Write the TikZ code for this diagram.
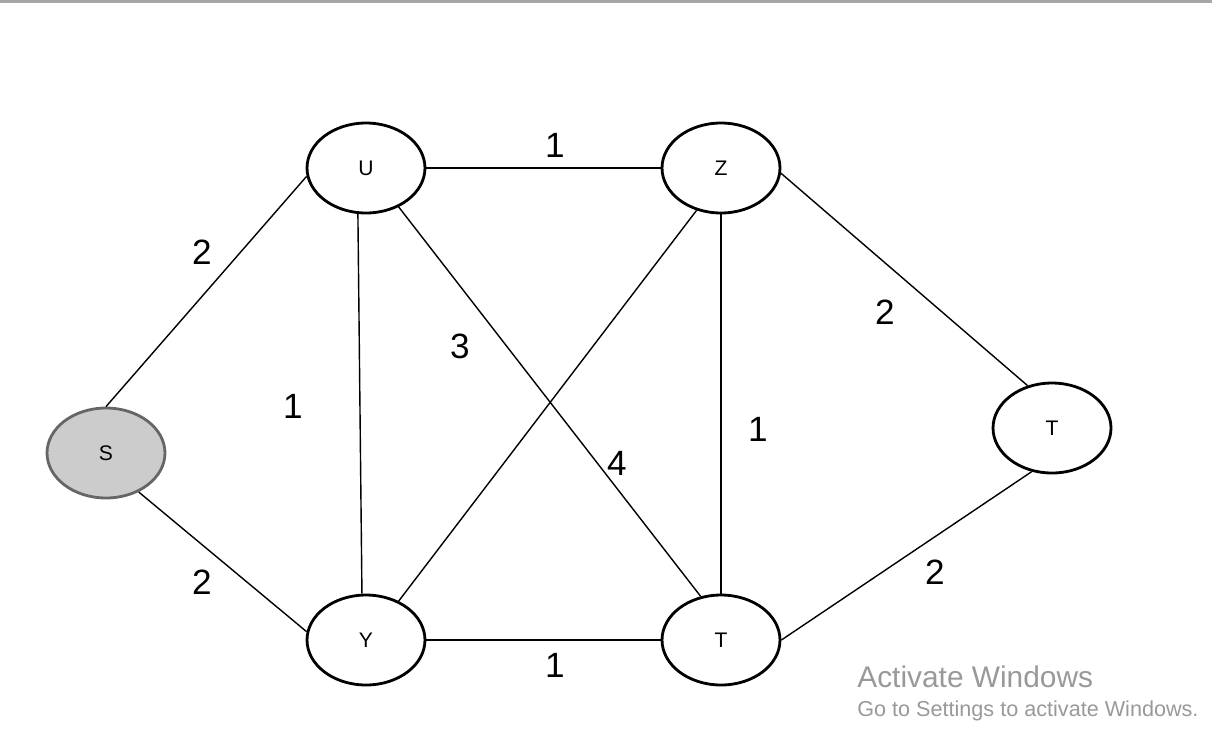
\documentclass[tikz,border=0pt]{standalone}
\usepackage{fontspec}
\setmainfont{Liberation Sans}
\usetikzlibrary{shapes.geometric}
\begin{document}
\begin{tikzpicture}[x=0.02cm,y=-0.02cm,
  vert/.style={ellipse,draw,line width=1.6pt,minimum width=2.36cm,minimum height=1.8cm,inner sep=0pt,font=\fontsize{12}{14}\selectfont},
  edge/.style={line width=0.8pt},
  wt/.style={font=\fontsize{20}{24}\selectfont}]
\useasboundingbox (0,0) rectangle (1212,728);
\fill[gray!70] (0,0) rectangle (1212,3);
\node[vert] (U) at (366,168) {U};
\node[vert] (Z) at (721,168) {Z};
\node[vert,fill=gray!40,draw=gray!80!black] (S) at (106,453) {S};
\node[vert] (T2) at (1052,428) {T};
\node[vert] (Y) at (366,640) {Y};
\node[vert] (T1) at (721,640) {T};
\draw[edge] (S.north) -- (U.188);
\draw[edge] (S.-50) -- (Y.172);
\draw[edge] (U) -- (Z);
\draw[edge] (Y) -- (T1);
\draw[edge] (U.-100) -- (Y.95);
\draw[edge] (U.-50) -- (T1.115);
\draw[edge] (Z.-120) -- (Y.50);
\draw[edge] (Z) -- (T1);
\draw[edge] (Z.-5) -- (T2.120);
\draw[edge] (T2.-115) -- (T1.0);
\node[wt] (w1) at (202,252) {2};
\node[wt] (w2) at (202,582) {2};
\node[wt] (w3) at (555,145) {1};
\node[wt] (w4) at (293,406) {1};
\node[wt] (w5) at (460,346) {3};
\node[wt] (w6) at (617,463) {4};
\node[wt] (w7) at (758,429) {1};
\node[wt] (w8) at (885,312) {2};
\node[wt] (w9) at (935,572) {2};
\node[wt] (w10) at (555,665) {1};
\node[anchor=west,text=gray!80,font=\fontsize{17}{19}\selectfont,inner sep=0pt] (a1) at (857,677) {Activate Windows};
\node[anchor=west,text=gray!80,font=\fontsize{12.3}{14}\selectfont,inner sep=0pt] (a2) at (857,711) {Go to Settings to activate Windows.};
\end{tikzpicture}
\end{document}
